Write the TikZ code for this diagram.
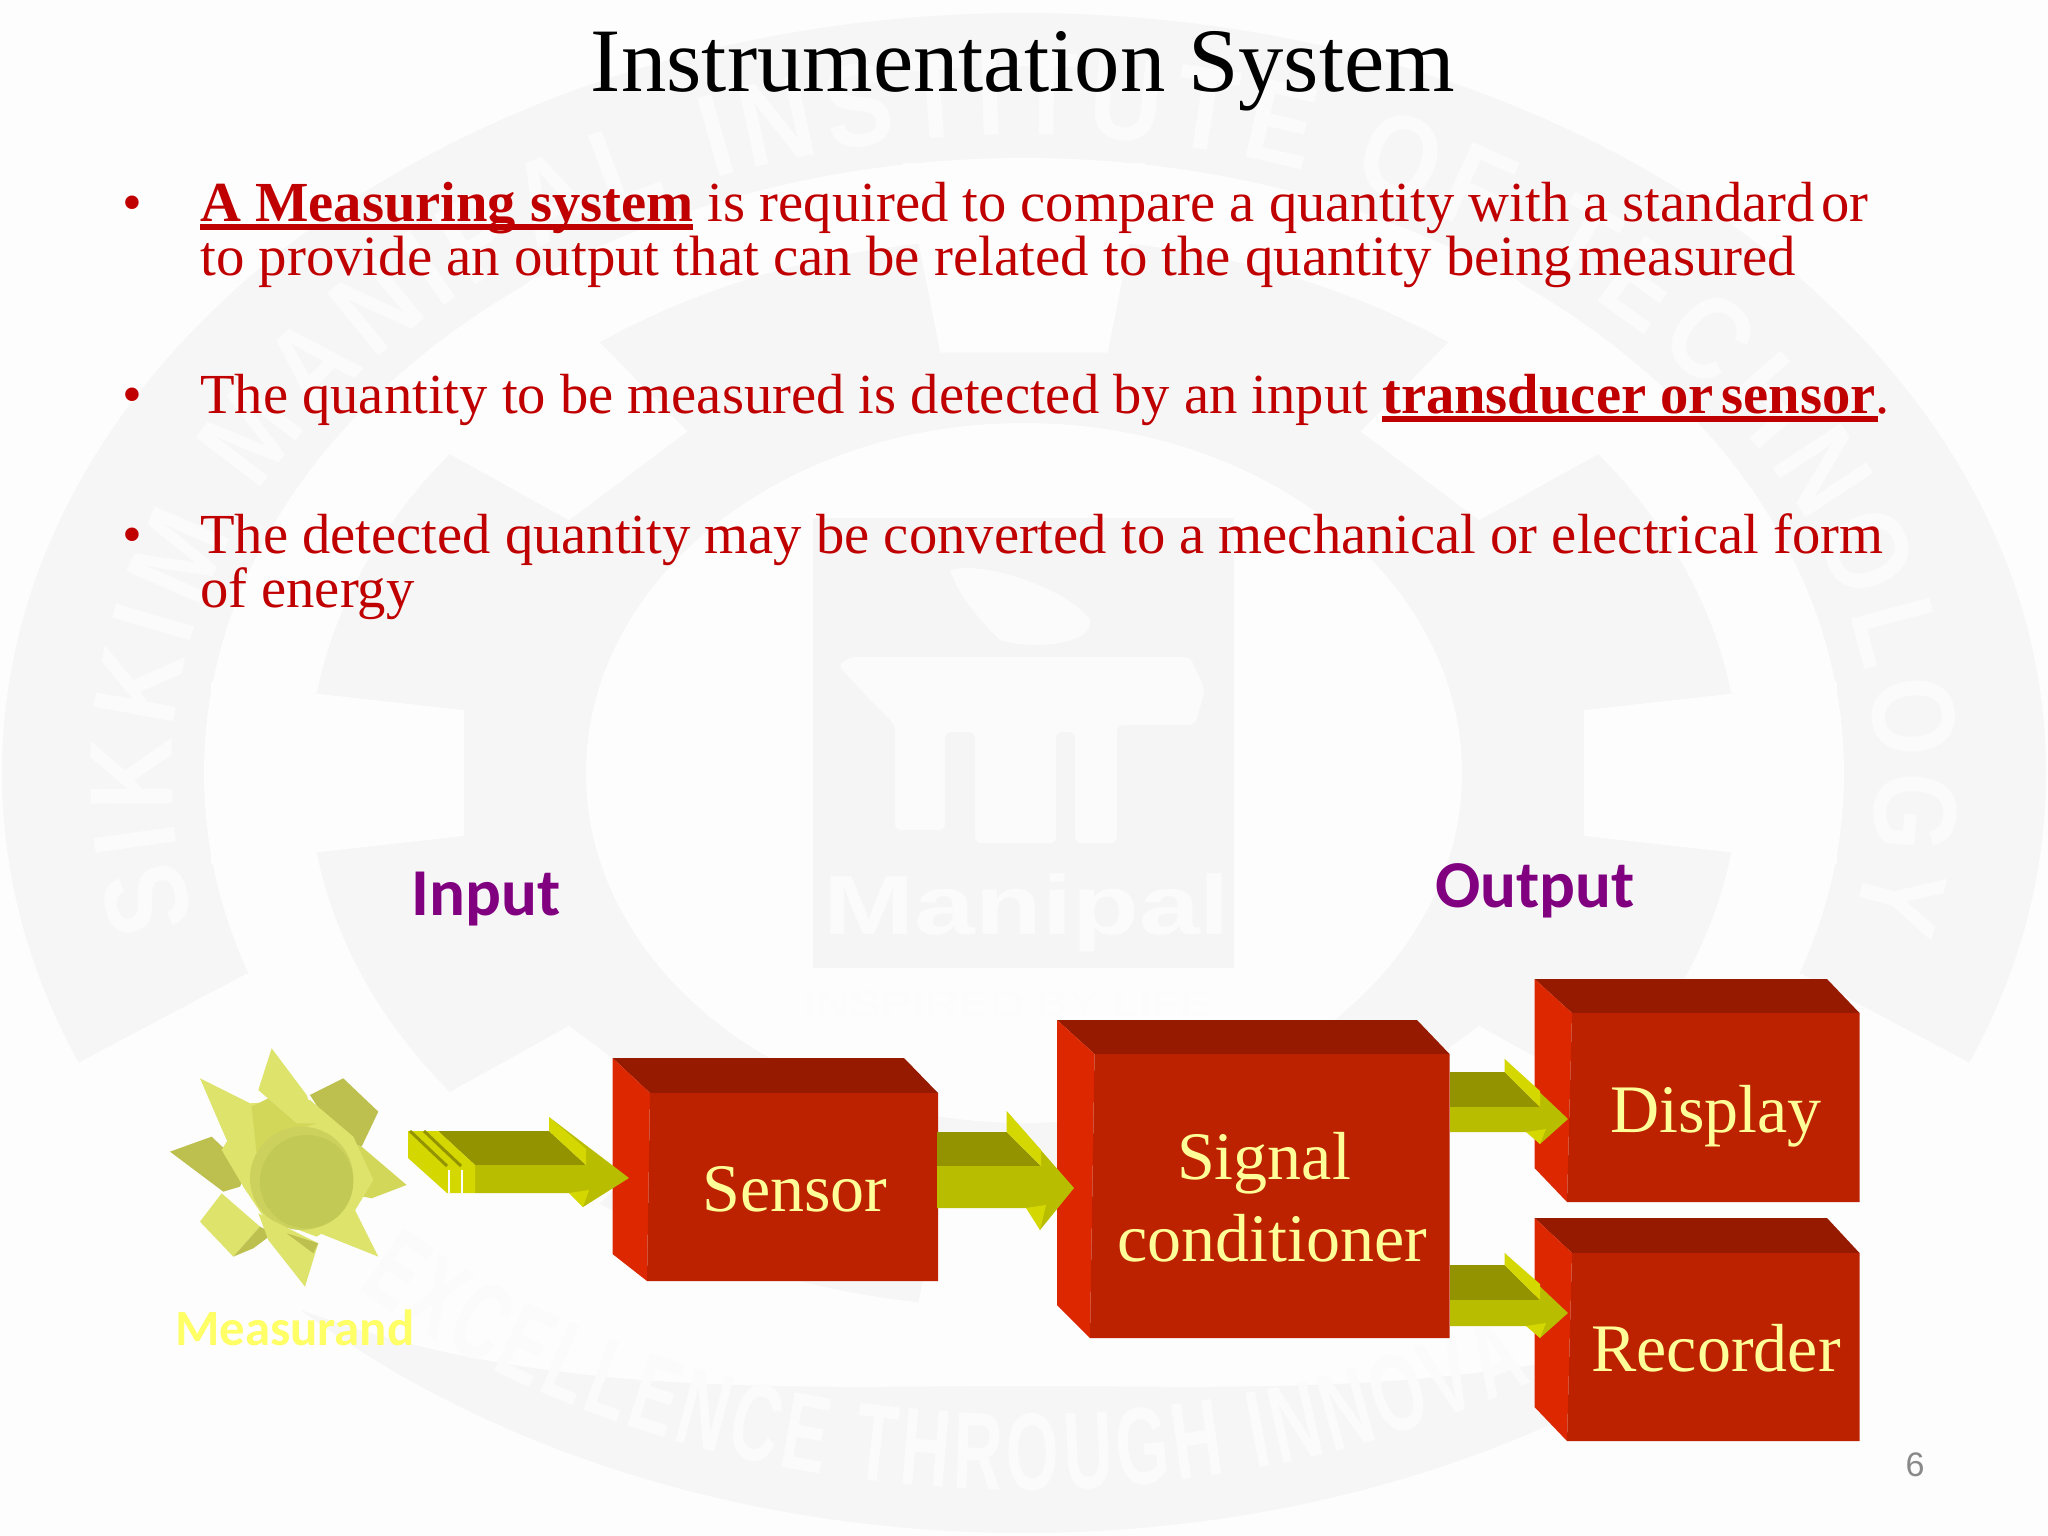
\documentclass[tikz,border=0pt]{standalone}
\usepackage{fontspec}
\setmainfont{Liberation Serif}
\newfontfamily\calib{Carlito}
\newfontfamily\arialf{Liberation Sans}
\newfontfamily\ringa[FakeStretch=0.86]{Liberation Sans}
\newfontfamily\ringb[FakeStretch=0.62]{Liberation Sans}
\newfontfamily\widea[FakeStretch=1.3]{Liberation Sans}
\usetikzlibrary{decorations.text}
\definecolor{pagebg}{HTML}{FDFDFE}
\definecolor{wmgrey}{HTML}{F6F6F7}
\definecolor{wmsquare}{HTML}{F5F5F6}
\definecolor{wmlight}{HTML}{FBFBFC}
\definecolor{bodyred}{HTML}{C00000}
\definecolor{boxfront}{HTML}{BC2200}
\definecolor{boxleft}{HTML}{DC2700}
\definecolor{boxtop}{HTML}{961A00}
\definecolor{arrdark}{HTML}{939300}
\definecolor{arrfront}{HTML}{B9BD00}
\definecolor{arrbright}{HTML}{D4D800}
\definecolor{boxtext}{HTML}{FFFF99}
\definecolor{measure}{HTML}{FFFF66}
\definecolor{labelpurple}{HTML}{800080}
\definecolor{pagegrey}{HTML}{898989}
\definecolor{sunlight}{HTML}{DDE36B}
\definecolor{sunmid}{HTML}{D2D75A}
\definecolor{sunolive}{HTML}{BDC04F}
\definecolor{suncircle}{HTML}{C3C955}
\newcommand{\fsz}[1]{\fontsize{#1pt}{#1pt}\selectfont}
\tikzset{
  bodytext/.style={anchor=base west,inner sep=0pt,text=bodyred,font=\fsz{56.6}},
  boxlabel/.style={anchor=base,inner sep=0pt,text=boxtext,font=\fsz{68}},
  biglabel/.style={anchor=base west,inner sep=0pt,text=labelpurple,font=\calib\bfseries\fsz{67}},
  underbar/.style={line width=6pt,bodyred},
}
% L T BR FL FT R B LB FBx
\newcommand{\redbox}[9]{%
  \fill[boxtop] (#1,#2)--(#3,#2)--(#6,#5)--(#4,#5)--cycle;
  \fill[boxleft] (#1,#2)--(#4,#5)--(#9,#7)--(#1,#8)--cycle;
  \fill[boxfront] (#4,#5)--(#6,#5)--(#6,#7)--(#9,#7)--cycle;
}
\newcommand{\blockarrow}[9]{\def\bA{#1}\def\bB{#2}\def\bC{#3}\def\bD{#4}\def\bE{#5}\def\bF{#6}\def\bG{#7}\def\bH{#8}\def\bI{#9}\blockarrowb}
\newcommand{\blockarrowb}[2]{%
  \fill[arrdark] (\bA,\bB)--(\bE,\bB)--(\bG,\bC)--(\bA,\bC)--cycle;
  \fill[arrfront] (\bA,\bC)--(\bG,\bC)--(\bE,\bF)--(\bH,\bI)--(#1,#2)--(#1-12,\bD)--(\bA,\bD)--cycle;
  \fill[arrbright] (\bE,\bF)--(\bG,\bC-16)--(\bG,\bC)--(\bE,\bB)--cycle;
  \fill[arrbright] (#1-14,\bD)--(#1,#2)--(#1+6,\bD-3)--cycle;
}
\begin{document}
\begin{tikzpicture}[x=1pt,y=-1pt]
\useasboundingbox (0,0) rectangle (2048,1536);
\fill[pagebg] (0,0) rectangle (2048,1536);
% watermark: outer ring
\fill[wmgrey] (1024,773) ellipse [x radius=1022,y radius=760];
\fill[pagebg] (1024,773) ellipse [x radius=820,y radius=615];
\fill[pagebg] (-2,1104)--(78,1063)--(246,974)--(700,974)--(700,1540)--(-2,1540)--cycle;
\fill[pagebg] (2050,1104)--(1970,1063)--(1802,974)--(1340,974)--(1340,1540)--(2050,1540)--cycle;
\fill[pagebg] (600,1100) rectangle (1450,1540);
% bottom band
\fill[wmgrey] plot[domain=225:315,samples=80,variable=\t] ({1024+1022*cos(\t)},{773-760*sin(\t)})
  .. controls (1500,1400) and (1250,1386) .. (1024,1386) .. controls (800,1386) and (540,1400) .. (301,1310) -- cycle;
% gear
\fill[wmgrey] (1024,773) ellipse [x radius=715,y radius=535];
\foreach \a in {0,45,...,315}{
  \fill[pagebg] ({1024+566*cos(\a-8.5)},{773-425*sin(\a-8.5)})--({1024+822*cos(\a-8.5)},{773-617*sin(\a-8.5)})--({1024+822*cos(\a+8.5)},{773-617*sin(\a+8.5)})--({1024+566*cos(\a+8.5)},{773-425*sin(\a+8.5)})--cycle;
}
\fill[pagebg] (1024,773) ellipse [x radius=438,y radius=350];
\path[decorate,decoration={text along path,text align={fit to path},text={|\ringa\bfseries\fsz{118}\color{wmlight}|SIKKIM MANIPAL INSTITUTE OF TECHNOLOGY}}]
  plot[domain=193.6:-13.6,samples=180,variable=\t] ({1024+852*cos(\t)},{773-638*sin(\t)});
\path[decorate,decoration={text along path,text align={fit to path},text={|\ringb\bfseries\fsz{110}\color{wmlight}|EXCELLENCE THROUGH INNOVATION}}]
  plot[domain=226:314,samples=100,variable=\t] ({1024+960*cos(\t)},{773-717*sin(\t)});
\fill[wmsquare] (813,518) rectangle (1234,968);
\fill[wmlight] (950,570) .. controls (985,560) and (1070,590) .. (1090,620) .. controls (1095,645) and (1030,650) .. (1000,640) .. controls (985,625) and (960,600) .. (950,570) -- cycle;
\fill[wmlight,rounded corners=6pt] (838,665)--(850,657)--(1190,657)--(1205,690)--(1195,725)--(1117,725)--(1117,843)--(1075,843)--(1075,732)--(1056,732)--(1056,843)--(975,843)--(975,732)--(945,732)--(945,830)--(895,830)--(895,725)--(870,700)--cycle;
\node[anchor=base,inner sep=0pt,text=wmlight,font=\widea\bfseries\fsz{84}] (manipal) at (1027,934) {Manipal};
\node[anchor=base,inner sep=0pt,text=wmlight!60!pagebg,font=\widea\fsz{36}] (inspired) at (1007,1016) {INSPIRED BY LIFE};
% title and text
\node[anchor=base,inner sep=0pt,font=\fsz{90.7}] (title) at (1023,91.5) {Instrumentation System};
\node[bodytext] (b1) at (122.5,221) {•};
\node[bodytext] (l1) at (200,221) {\textbf{A Measuring system} is required to compare a quantity with a {\spaceskip=7pt standard or}};
\node[bodytext,font=\fsz{56.85}] (l2) at (200,275) {to provide an output that can be related to the quantity {\spaceskip=6pt being measured}};
\node[bodytext] (b2) at (122.5,413) {•};
\node[bodytext] (l3) at (200,413) {The quantity to be measured is detected by an input \textbf{transducer {\spaceskip=8pt or sensor}}.};
\node[bodytext] (b3) at (122.5,553.5) {•};
\node[bodytext] (l4) at (200,553.5) {The detected quantity may be converted to a mechanical or electrical form};
\node[bodytext] (l5) at (200,607.5) {of energy};
\coordinate (u1a) at (200,226.5); \coordinate (u1b) at (693,226.5);
\coordinate (u2a) at (1382,419); \coordinate (u2b) at (1878,419);
\draw[underbar] (u1a)--(u1b);
\draw[underbar] (u2a)--(u2b);
\node[biglabel] (input) at (411,915) {Input};
\node[biglabel] (output) at (1435,907) {Output};
% boxes
\redbox{612.5}{1058}{904}{650}{1093}{938}{1281}{1254}{647};
\redbox{1057}{1020}{1417}{1094.5}{1054}{1449.5}{1338}{1305}{1090};
\redbox{1534.5}{979}{1827}{1572}{1013}{1859.5}{1202}{1168}{1567};
\redbox{1534.5}{1218}{1827}{1572}{1253}{1859.5}{1441}{1407}{1567};
\node[boxlabel] (sensor) at (795,1211) {Sensor};
\node[boxlabel] (signal) at (1264,1179) {Signal};
\node[boxlabel] (cond) at (1272,1261) {conditioner};
\node[boxlabel] (display) at (1716,1132) {Display};
\node[boxlabel] (recorder) at (1716,1371) {Recorder};
% arrows
\blockarrow{937}{1132}{1166}{1208}{1006.5}{1111}{1041}{1074}{1188}{1040}{1230}
\blockarrow{1450}{1072}{1107}{1132}{1504.5}{1059}{1540}{1568}{1119}{1540}{1144}
\blockarrow{1450}{1265}{1300}{1326}{1504.5}{1253}{1540}{1568}{1313}{1540}{1338}
\blockarrow{475}{1131}{1165}{1193}{549}{1117}{586}{629}{1178}{583}{1207}
\fill[arrdark] (438,1131)--(475,1131)--(475,1165)--cycle;
\fill[arrbright] (408,1131)--(438,1131)--(475,1165)--(475,1193)--(447,1193)--(408,1158)--cycle;
\draw[arrdark,line width=3pt] (410,1131)--(447,1166);
\draw[arrdark,line width=3pt] (424,1131)--(461,1166);
\draw[pagebg,line width=2pt] (448.5,1170)--(448.5,1193);
\draw[pagebg,line width=2pt] (462,1170)--(462,1193);
% measurand sun
\begin{scope}[shift={(140,1000)},x=0.3333pt,y=-0.3333pt]
\fill[sunolive] (610,235)--(715,335)--(665,440)--(590,410)--(510,285)--cycle;
\fill[sunmid] (610,420)--(665,440)--(800,555)--(695,595)--(620,580)--cycle;
\fill[sunlight] (180,235)--(330,310)--(400,420)--(340,470)--(260,420)--cycle;
\fill[sunolive] (90,455)--(215,410)--(320,510)--(300,560)--(250,575)--cycle;
\fill[sunlight] (245,580)--(360,680)--(280,770)--(180,665)--cycle;
\fill[sunolive] (280,770)--(360,680)--(400,700)--(340,745)--cycle;
\fill[sunlight] (640,620)--(715,770)--(540,700)--cycle;
\fill[sunlight] (245,450)--(330,310)--(510,300)--(640,410)--(700,540)--(640,640)--(530,710)--(370,650)--(310,560)--cycle;
\fill[sunmid] (335,320)--(395,290)--(530,370)--(440,400)--(350,460)--cycle;
\fill[sunlight] (395,145)--(500,285)--(530,370)--(470,370)--(355,270)--cycle;
\fill[suncircle!70!sunlight] (485,535) circle [radius=155];
\fill[suncircle] (500,545) circle [radius=140];
\fill[sunlight] (355,640)--(535,730)--(495,860)--(385,720)--cycle;
\fill[sunolive] (440,700)--(535,730)--(520,760)--cycle;
\end{scope}
\node[anchor=base west,inner sep=0pt,text=measure,font=\calib\bfseries\fsz{50.8}] (measurand) at (175,1345) {Measurand};
\node[anchor=base,inner sep=0pt,text=pagegrey,font=\arialf\fsz{34}] (pagenum) at (1915,1476) {6};
\end{tikzpicture}
\end{document}
